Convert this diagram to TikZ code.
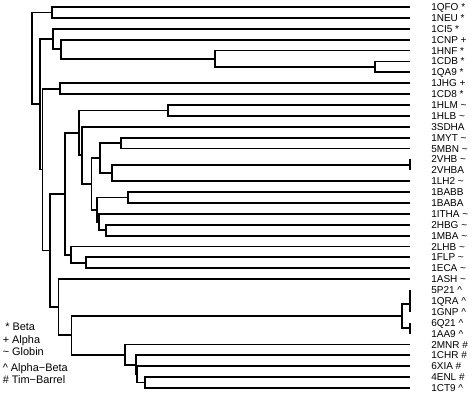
\documentclass[tikz,border=0pt]{standalone}
\usepackage{fontspec}
\setmainfont{Liberation Sans}
\tikzstyle{BranchEdge}=[line width=1.35pt, line join=miter]
\tikzstyle{LeafText}=[anchor=west, inner sep=0pt, text height=5.3pt, text depth=0pt, font=\fontsize{7.5}{8}\selectfont]
\tikzstyle{KeyText}=[anchor=west, inner sep=0pt, text height=5.8pt, text depth=0pt, font=\fontsize{8.2}{9}\selectfont]
\newcommand{\glb}{\textasciitilde}
\newcommand{\alb}{\textasciicircum}

\begin{document}
\begin{tikzpicture}[x=0.75pt, y=-0.75pt]
\useasboundingbox (0,0) rectangle (474,395);

% leaves and their labels
\foreach \lab [count=\i from 0] in {1QFO *, 1NEU *, 1CI5 *, 1CNP +, 1HNF *, 1CDB *, 1QA9 *, 1JHG +, 1CD8 *, 1HLM \glb, 1HLB \glb, 3SDHA, 1MYT \glb, 5MBN \glb, 2VHB \glb, 2VHBA, 1LH2 \glb, 1BABB, 1BABA, 1ITHA \glb, 2HBG \glb, 1MBA \glb, 2LHB \glb, 1FLP \glb, 1ECA \glb, 1ASH \glb, 5P21 \alb, 1QRA \alb, 1GNP \alb, 6Q21 \alb, 1AA9 \alb, 2MNR \#, 1CHR \#, 6XIA \#, 4ENL \#, 1CT9 \alb}{
  \coordinate (L\i) at (410, {7+10.886*\i});
  \node[LeafText] (T\i) at (431, {7+10.886*\i}) {\lab};
}

% merge points
\coordinate (Root) at (32,58.37);
\coordinate (A) at (52,12.45);
\coordinate (N39) at (40,104.29);
\coordinate (N53) at (53,39.0);
\coordinate (N61) at (61,49.19);
\coordinate (N215) at (215,58.68);
\coordinate (NCDB) at (375,66.85);
\coordinate (N43) at (42.5,169.58);
\coordinate (N60) at (60,88.65);
\coordinate (N50) at (50,250.5);
\coordinate (N65) at (65,193.78);
\coordinate (N78) at (79,132.88);
\coordinate (N168) at (168,110.45);
\coordinate (N82) at (82,155.3);
\coordinate (N91) at (91.5,183.9);
\coordinate (N100) at (100,158.04);
\coordinate (N121) at (121,143.05);
\coordinate (N112) at (112,173.03);
\coordinate (NVHB) at (410,164.85);
\coordinate (N97) at (97,209.77);
\coordinate (N128) at (128,197.55);
\coordinate (N99) at (99,221.98);
\coordinate (N106) at (106,230.15);
\coordinate (N71b) at (71,254.68);
\coordinate (N86) at (86,262.85);
\coordinate (N58) at (58.5,307.25);
\coordinate (N71) at (71.5,335.3);
\coordinate (NX) at (402,315.89);
\coordinate (NY) at (410,303.63);
\coordinate (NYa) at (410,295.45);
\coordinate (NZ) at (410,328.15);
\coordinate (N125) at (125,354.7);
\coordinate (NW) at (136,364.9);
\coordinate (NV) at (137,374.43);
\coordinate (NU) at (145,382.55);

% branches
\foreach \p/\c in {Root/A, Root/N39, A/L0, A/L1, N39/N53, N39/N43, N53/L2, N53/N61,
  N61/L3, N61/N215, N215/L4, N215/NCDB, NCDB/L5, NCDB/L6, N43/N60, N43/N50,
  N60/L7, N60/L8, N50/N65, N50/N58, N65/N78, N65/N71b, N78/N168, N78/N82,
  N168/L9, N168/L10, N82/L11, N82/N91, N91/N100, N91/N97, N100/N121, N100/N112,
  N121/L12, N121/L13, N112/NVHB, N112/L16, NVHB/L14, NVHB/L15, N97/N128, N97/N99,
  N128/L17, N128/L18, N99/L19, N99/N106, N106/L20, N106/L21, N71b/L22, N71b/N86,
  N86/L23, N86/L24, N58/L25, N58/N71, N71/NX, N71/N125, NX/NY, NX/NZ,
  NY/NYa, NY/L28, NYa/L26, NYa/L27, NZ/L29, NZ/L30, N125/L31, N125/NW,
  NW/L32, NW/NV, NV/L33, NV/NU, NU/L34, NU/L35}
  \draw[BranchEdge] (\p) |- (\c);

% key
\node[KeyText] (Key1) at (5,327) {* Beta};
\node[KeyText] (Key2) at (2.5,340) {+ Alpha};
\node[KeyText] (Key3) at (2.5,352) {\glb\ Globin};
\node[KeyText] (Key4) at (2.5,368) {\alb\ Alpha−Beta};
\node[KeyText] (Key5) at (2.5,379.5) {\# Tim−Barrel};
\end{tikzpicture}
\end{document}
